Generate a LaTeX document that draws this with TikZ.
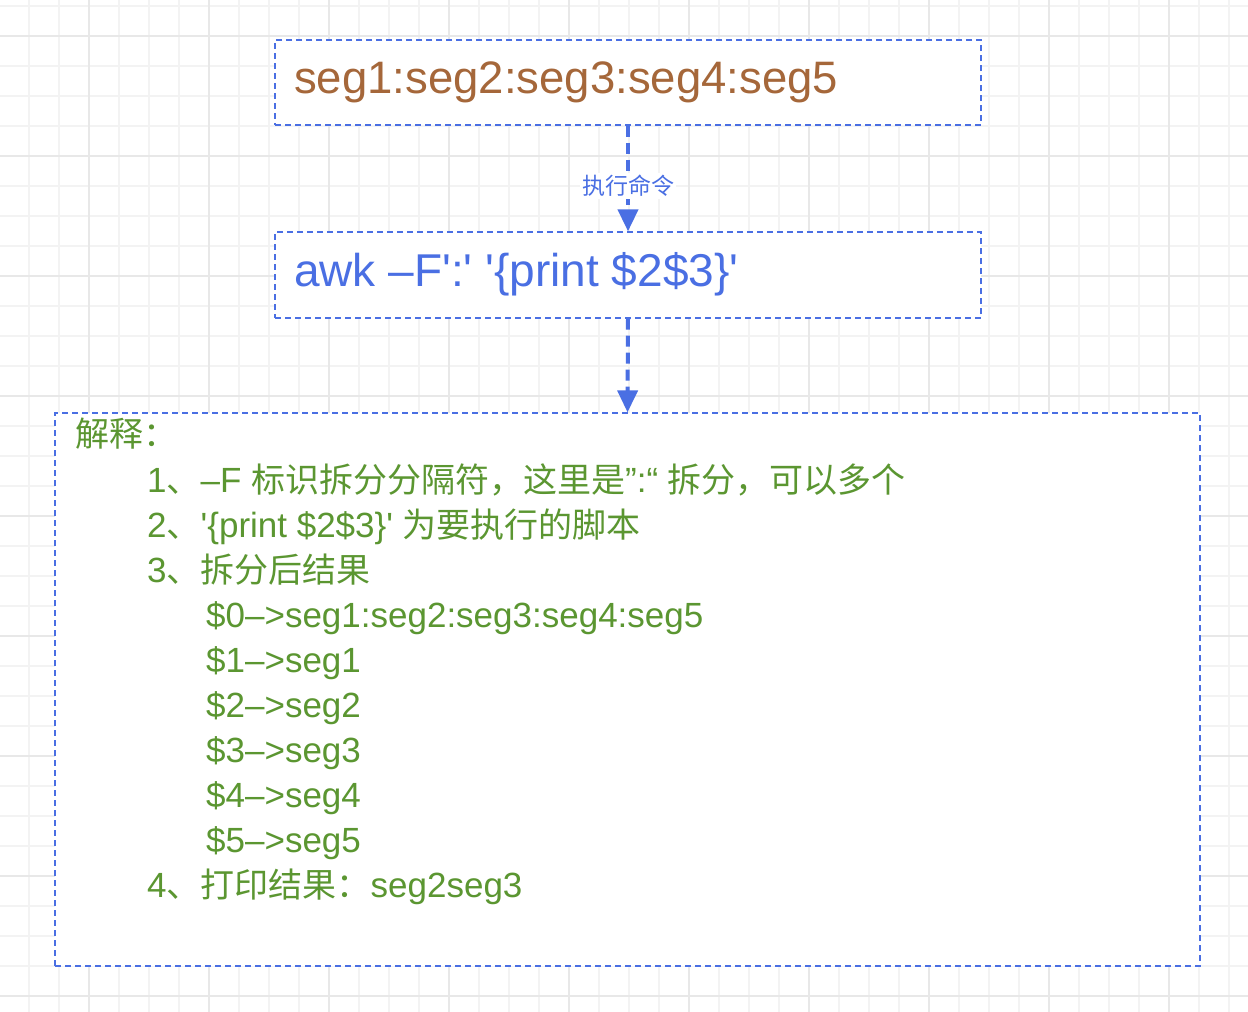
\documentclass[tikz,border=0pt]{standalone}
\usepackage{fontspec}
\setmainfont{Liberation Sans}[Ligatures=TeXOff]
\newfontfamily\cjk{Noto Sans CJK SC}
\usetikzlibrary{arrows.meta}
\newcommand\sq{\char"0027\relax}
\definecolor{bl}{HTML}{4A6FE3}
\definecolor{br}{HTML}{A5673A}
\definecolor{gr}{HTML}{5B9631}
\definecolor{gmin}{HTML}{F3F3F3}
\definecolor{gmaj}{HTML}{E8E8E8}
\tikzset{
  box/.style={draw=bl,line width=1.3pt,dash pattern=on 6pt off 4pt,inner sep=0pt},
  conn/.style={draw=bl,line width=4pt,dash pattern=on 11pt off 6pt,-{Triangle[width=20pt,length=22pt]}},
  gl/.style={anchor=base west,inner sep=0pt,text=gr,font=\fontsize{35}{35}\selectfont},
  zh/.style={font=\cjk\fontsize{34}{34}\selectfont}
}
\begin{document}
\begin{tikzpicture}[x=1pt,y=-1pt]
\useasboundingbox (0,0) rectangle (1248,1012);
\fill[white] (0,0) rectangle (1248,1012);
\foreach \x in {29,59,...,1248} \draw[gmin,line width=2pt] (\x,0)--(\x,1012);
\foreach \y in {6,36,...,1012} \draw[gmin,line width=2pt] (0,\y)--(1248,\y);
\foreach \x in {89,209,...,1248} \draw[gmaj,line width=2pt] (\x,0)--(\x,1012);
\foreach \y in {36,156,...,1012} \draw[gmaj,line width=2pt] (0,\y)--(1248,\y);
\node[box,fill=white,minimum width=706pt,minimum height=85pt] (b1) at (628,82.5) {};
\node[box,fill=white,minimum width=706pt,minimum height=86pt] (b2) at (628,275) {};
\node[box,fill=white,minimum width=1145pt,minimum height=553pt] (b3) at (627.5,689.5) {};
\node[anchor=west,inner sep=0pt,text=br,font=\fontsize{45.5}{45.5}\selectfont] (t1) at (294,82) {seg1:seg2:seg3:seg4:seg5};
\node[anchor=west,inner sep=0pt,text=bl,font=\fontsize{46}{46}\selectfont] (t2) at (294,274) {awk –F\sq:\sq{} \sq\{print \$2\$3\}\sq};
\draw[conn] (b1.south) -- (b2.north) node[pos=0.57,fill=white,inner sep=2pt,text=bl,font=\cjk\fontsize{23}{23}\selectfont] (lab) {执行命令};
\draw[conn] (b2.south) -- (b3.north);
\node[gl] (l0) at (75,446) {\cjk\fontsize{34}{34}\selectfont 解释：};
\node[gl] (l1) at (147,492) {1{\cjk\fontsize{34}{34}\selectfont 、}–F {\cjk\fontsize{34}{34}\selectfont 标识拆分分隔符，这里是}”:“ {\cjk\fontsize{34}{34}\selectfont 拆分，可以多个}};
\node[gl] (l2) at (147,537) {2{\cjk\fontsize{34}{34}\selectfont 、}\sq\{print \$2\$3\}\sq{} {\cjk\fontsize{34}{34}\selectfont 为要执行的脚本}};
\node[gl] (l3) at (147,582) {3{\cjk\fontsize{34}{34}\selectfont 、拆分后结果}};
\node[gl] (s0) at (206,627) {\$0–>seg1:seg2:seg3:seg4:seg5};
\node[gl] (s1) at (206,672) {\$1–>seg1};
\node[gl] (s2) at (206,717) {\$2–>seg2};
\node[gl] (s3) at (206,762) {\$3–>seg3};
\node[gl] (s4) at (206,807) {\$4–>seg4};
\node[gl] (s5) at (206,852) {\$5–>seg5};
\node[gl] (l4) at (147,897) {4{\cjk\fontsize{34}{34}\selectfont 、打印结果：}seg2seg3};
\end{tikzpicture}
\end{document}
